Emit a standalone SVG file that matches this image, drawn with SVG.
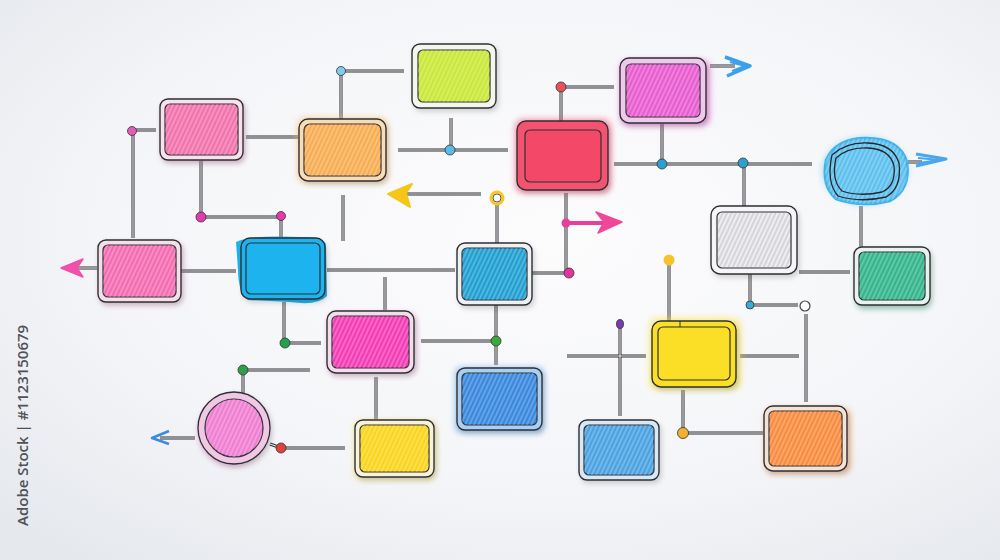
<svg xmlns="http://www.w3.org/2000/svg" width="1000" height="560" viewBox="0 0 1000 560">
<defs>
  <radialGradient id="bg" cx="0.55" cy="0.42" r="0.75">
    <stop offset="0" stop-color="#fcfcfd"/>
    <stop offset="0.6" stop-color="#f4f5f8"/>
    <stop offset="1" stop-color="#e5e8ed"/>
  </radialGradient>
  <pattern id="hatch" width="4" height="12" patternUnits="userSpaceOnUse" patternTransform="rotate(25)">
    <line x1="1" y1="0" x2="1" y2="12" stroke="#ffffff" stroke-opacity="0.5" stroke-width="0.9"/>
  </pattern>
  <pattern id="hatchG" width="4" height="12" patternUnits="userSpaceOnUse" patternTransform="rotate(25)">
    <line x1="1" y1="0" x2="1" y2="12" stroke="#8d8d94" stroke-opacity="0.65" stroke-width="0.8"/>
  </pattern>
  <filter id="sh" x="-20%" y="-20%" width="140%" height="150%">
    <feDropShadow dx="2" dy="3" stdDeviation="2.5" flood-color="#000" flood-opacity="0.16"/>
  </filter>
  <filter id="blur" x="-30%" y="-30%" width="160%" height="160%">
    <feGaussianBlur stdDeviation="3"/>
  </filter>
  <g id="lines">
    <path d="M341 71 H404 M341 71 V119"/>
    <path d="M132 130 H156 M133 131 V238"/>
    <path d="M246 137 H298"/>
    <path d="M201 161 V217 H281 V238"/>
    <path d="M343 195 V241"/>
    <path d="M181 271 H236"/>
    <path d="M97 268 H74"/>
    <path d="M327 270 H455"/>
    <path d="M385 277 V310"/>
    <path d="M398 150 H508 M451 118 V150"/>
    <path d="M400 194 H481"/>
    <path d="M497 204 V243"/>
    <path d="M561 87 H614 M561 87 V121"/>
    <path d="M710 66 H735"/>
    <path d="M614 164 H812 M662 124 V164 M744 164 V206"/>
    <path d="M908 162 H922"/>
    <path d="M861 206 V247"/>
    <path d="M566 193 V273 M532 273 H570"/>
    <path d="M799 272 H850"/>
    <path d="M750 274 V305 H798"/>
    <path d="M806 314 V402"/>
    <path d="M669 264 V321"/>
    <path d="M620 328 V416 M567 356 H646"/>
    <path d="M740 356 H799"/>
    <path d="M683 390 V433 H763"/>
    <path d="M284 302 V343 H321"/>
    <path d="M496 305 V365 M421 341 H496"/>
    <path d="M376 377 V419"/>
    <path d="M243 370 H310 M243 370 V395"/>
    <path d="M195 438 H160"/>
    <path d="M270 444 L281 448 H345"/>
  </g>
</defs>
<style>
  .lo{fill:none;stroke:#2e2e33;stroke-width:3;stroke-linecap:butt}
  .li{fill:none;stroke:#f0f1f4;stroke-width:1.1}
  .out{stroke:#2f2f34;stroke-width:1.4;filter:url(#sh)}
  .in{stroke:#2f2f34;stroke-width:1.2}
  .hz{fill:url(#hatch);stroke:none}
  .hg{fill:url(#hatchG);stroke:none}
  .glow{filter:url(#blur);opacity:0.55}
  .dot{stroke:#333;stroke-width:0.8}
  .loop{fill:none;stroke:#26262b;stroke-width:1.3}
  .wm{font-family:"Open Sans","DejaVu Sans",sans-serif;font-size:15px;font-weight:600;fill:#505259}
</style>
<rect width="1000" height="560" fill="url(#bg)"/>

<g id="connectors">
  <use href="#lines" class="lo"/>
  <use href="#lines" class="li"/>
  <path d="M566 223 H610" stroke="#e8409a" stroke-width="4" fill="none"/>
  <g id="dots">
    <circle class="dot" cx="341" cy="71" r="4.5" fill="#82cbee"/>
    <circle class="dot" cx="132" cy="131" r="4.5" fill="#e45cb8"/>
    <circle class="dot" cx="201" cy="217" r="5" fill="#e83ab0"/>
    <circle class="dot" cx="281" cy="216" r="4.5" fill="#e83ab0"/>
    <circle class="dot" cx="450" cy="150" r="5" fill="#5abbe9"/>
    <circle cx="497" cy="198" r="6" fill="#fff" stroke="#f4c81e" stroke-width="3"/>
    <circle cx="497" cy="198" r="4" fill="none" stroke="#333" stroke-width="0.8"/>
    <circle class="dot" cx="561" cy="87" r="5" fill="#e8505e"/>
    <circle class="dot" cx="662" cy="164" r="5" fill="#2aa0d0"/>
    <circle class="dot" cx="743" cy="163" r="5" fill="#2aa0d0"/>
    <circle class="dot" cx="569" cy="273" r="5" fill="#e8309e"/>
    <circle cx="566" cy="223" r="4.5" fill="#e8409a"/>
    <circle cx="669" cy="260" r="5.5" fill="#f6c428"/>
    <ellipse class="dot" cx="620" cy="324" rx="3.5" ry="4.5" fill="#7a3ab8"/>
    <circle cx="805" cy="306" r="5" fill="#fff" stroke="#444" stroke-width="1.2"/>
    <circle class="dot" cx="750" cy="305" r="4" fill="#3aaad8"/>
    <circle class="dot" cx="683" cy="433" r="5.5" fill="#f5b030"/>
    <circle class="dot" cx="285" cy="343" r="5" fill="#22a04a"/>
    <circle class="dot" cx="496" cy="341" r="5" fill="#3aaa40"/>
    <circle class="dot" cx="243" cy="370" r="5" fill="#30a048"/>
    <circle class="dot" cx="281" cy="448" r="5" fill="#e04040"/>
  </g>
  <g id="arrowheads" stroke-linejoin="round">
    <path d="M61 268 L83 259 L77 268 L83 277 Z" fill="#f050a8" stroke="#f050a8" stroke-width="1.5"/>
    <path d="M388 194 L412 184 L406 193 L410 207 Z" fill="#f5c518" stroke="#f5c518" stroke-width="2"/>
    <path d="M622 222 L596 212 L604 222 L598 233 Z" fill="#f04898" stroke="#f04898" stroke-width="1.5"/>
    <path d="M725 57 L750 66 L727 76" fill="none" stroke="#3aa0ee" stroke-width="3.5"/>
    <path d="M730 62 L745 66 L732 71" fill="none" stroke="#3aa0ee" stroke-width="2"/>
    <path d="M916 154 L946 159 L916 166" fill="none" stroke="#4aa6ee" stroke-width="3"/>
    <path d="M918 158 L940 160 L918 163" fill="none" stroke="#4aa6ee" stroke-width="2"/>
    <path d="M169 431 L152 438 L169 444" fill="none" stroke="#3a8ce0" stroke-width="2.5"/>
  </g>
</g>

<g id="n-pink-top">
  <rect class="glow" x="162" y="102" width="82" height="60" rx="8" fill="#f2a0c8"/>
  <rect class="out" x="160" y="99" width="83" height="61" rx="8" fill="#f6e1ec"/>
  <rect class="in" x="165" y="104" width="73" height="51" rx="5" fill="#f272ac"/>
  <rect class="hz" x="165" y="104" width="73" height="51" rx="5"/>
</g>
<g id="n-lime">
  <rect class="out" x="412" y="44" width="84" height="64" rx="8" fill="#f4f6ee"/>
  <rect class="in" x="418" y="50" width="72" height="52" rx="5" fill="#c8e835"/>
  <rect class="hz" x="418" y="50" width="72" height="52" rx="5"/>
</g>
<g id="n-orange-top">
  <rect class="glow" x="297" y="117" width="91" height="66" rx="8" fill="#f9c070"/>
  <rect class="out" x="299" y="119" width="87" height="62" rx="9" fill="#f8dcb6"/>
  <rect class="in" x="304" y="124" width="77" height="52" rx="6" fill="#f8ad52"/>
  <rect class="hz" x="304" y="124" width="77" height="52" rx="6"/>
</g>
<g id="n-red">
  <rect class="glow" x="515" y="119" width="96" height="74" rx="8" fill="#f4496a"/>
  <rect class="out" x="517" y="121" width="91" height="69" rx="9" fill="#f4536f"/>
  <rect class="in" x="525" y="130" width="76" height="52" rx="5" fill="#f44868"/>
</g>
<g id="n-magenta-top">
  <rect class="glow" x="620" y="60" width="90" height="66" rx="8" fill="#e860d0"/>
  <rect class="out" x="620" y="58" width="86" height="65" rx="9" fill="#f0c8ec"/>
  <rect class="in" x="626" y="64" width="74" height="53" rx="5" fill="#e85cd0"/>
  <rect class="hz" x="626" y="64" width="74" height="53" rx="5"/>
</g>
<g id="n-circle-blue">
  <ellipse class="glow" cx="865" cy="171" rx="43" ry="34" fill="#6cc6f0"/>
  <path d="M826 160 Q836 138 866 138 Q900 138 907 162 Q911 190 890 201 Q862 208 836 199 Q821 186 826 160 Z" fill="#5cc0ee" stroke="#3fb0e8" stroke-width="2.5"/>
  <path d="M826 160 Q836 138 866 138 Q900 138 907 162 Q911 190 890 201 Q862 208 836 199 Q821 186 826 160 Z" class="hz"/>
  <path class="loop" d="M832 155 Q846 142 868 143 Q893 144 899 163 Q902 188 886 197 Q860 203 838 196 Q826 182 832 155"/>
  <path class="loop" d="M836 158 Q848 147 868 148 Q890 149 894 166 Q896 186 882 192 Q860 197 842 191 Q831 180 836 158"/>
</g>
<g id="n-grey">
  <rect class="out" x="711" y="206" width="86" height="68" rx="9" fill="#f6f6f8"/>
  <rect class="in" x="717" y="212" width="74" height="56" rx="5" fill="#eeeef1"/>
  <rect class="hg" x="717" y="212" width="74" height="56" rx="5"/>
</g>
<g id="n-green">
  <rect class="glow" x="856" y="251" width="74" height="58" rx="8" fill="#7ad0a8"/>
  <rect class="out" x="854" y="247" width="76" height="58" rx="8" fill="#e8f3ee"/>
  <rect class="in" x="859" y="252" width="66" height="48" rx="5" fill="#33b58b"/>
  <rect class="hz" x="859" y="252" width="66" height="48" rx="5"/>
</g>
<g id="n-pink-left">
  <rect class="glow" x="100" y="243" width="82" height="61" rx="8" fill="#f4a6cc"/>
  <rect class="out" x="98" y="240" width="83" height="62" rx="8" fill="#f3e0ea"/>
  <rect class="in" x="103" y="245" width="73" height="52" rx="5" fill="#f46cb0"/>
  <rect class="hz" x="103" y="245" width="73" height="52" rx="5"/>
</g>
<g id="n-cyan">
  <path d="M236 242 Q250 235 300 237 Q322 236 326 244 L327 296 Q318 306 290 302 L248 300 Q238 292 238 270 Z" fill="#1db3ef"/>
  <rect class="out" x="241" y="238" width="84" height="61" rx="9" fill="#1fb4ef"/>
  <rect class="in" x="246" y="243" width="74" height="51" rx="5" fill="#1db3ef"/>
</g>
<g id="n-teal">
  <rect class="out" x="457" y="243" width="75" height="62" rx="8" fill="#eef1f4"/>
  <rect class="in" x="462" y="248" width="65" height="52" rx="5" fill="#1e9fd2"/>
  <rect class="hz" x="462" y="248" width="65" height="52" rx="5"/>
</g>
<g id="n-magenta-mid">
  <rect class="glow" x="328" y="313" width="88" height="62" rx="8" fill="#f2a0d6"/>
  <rect class="out" x="327" y="311" width="87" height="62" rx="9" fill="#f3dcec"/>
  <rect class="in" x="332" y="316" width="77" height="52" rx="5" fill="#f43bb5"/>
  <rect class="hz" x="332" y="316" width="77" height="52" rx="5"/>
</g>
<g id="n-yellow-mid">
  <rect class="glow" x="649" y="318" width="92" height="72" rx="8" fill="#fbe43a"/>
  <rect class="out" x="652" y="321" width="84" height="66" rx="9" fill="#fbe024"/>
  <rect class="in" x="658" y="327" width="72" height="53" rx="5" fill="#fbdf26"/>
  <path d="M680 321 V327" stroke="#2f2f34" stroke-width="1"/>
</g>
<g id="n-orange-bottom">
  <rect class="glow" x="765" y="408" width="86" height="66" rx="8" fill="#f9a868"/>
  <rect class="out" x="764" y="406" width="83" height="65" rx="9" fill="#f6e2d2"/>
  <rect class="in" x="769" y="411" width="73" height="55" rx="5" fill="#f98b3e"/>
  <rect class="hz" x="769" y="411" width="73" height="55" rx="5"/>
</g>
<g id="n-blue-center">
  <rect class="glow" x="455" y="367" width="89" height="66" rx="6" fill="#5aa0e6"/>
  <rect class="out" x="457" y="368" width="85" height="62" rx="8" fill="#a8d0f2"/>
  <rect class="in" x="462" y="373" width="75" height="52" rx="5" fill="#3888de"/>
  <rect class="hz" x="462" y="373" width="75" height="52" rx="5"/>
</g>
<g id="n-blue-bottom">
  <rect class="out" x="579" y="420" width="80" height="60" rx="8" fill="#d8e8f5"/>
  <rect class="in" x="584" y="425" width="70" height="50" rx="5" fill="#4aa2e2"/>
  <rect class="hz" x="584" y="425" width="70" height="50" rx="5"/>
</g>
<g id="n-yellow-bottom">
  <rect class="glow" x="354" y="420" width="82" height="60" rx="8" fill="#f8e060"/>
  <rect class="out" x="355" y="420" width="79" height="57" rx="8" fill="#f8f3d4"/>
  <rect class="in" x="360" y="425" width="69" height="47" rx="5" fill="#fad51c"/>
  <rect class="hz" x="360" y="425" width="69" height="47" rx="5"/>
</g>
<g id="n-pink-circle">
  <circle class="glow" cx="233" cy="431" r="35" fill="#ec90d8"/>
  <circle cx="234" cy="428" r="36" fill="#f0c8e4" stroke="#2f2f34" stroke-width="1.3" filter="url(#sh)"/>
  <circle cx="234" cy="428" r="29" fill="#f07ed2" stroke="#2f2f34" stroke-width="1.2"/>
  <circle cx="234" cy="428" r="29" class="hz"/>
</g>

<text class="wm" transform="translate(28,526) rotate(-90)">Adobe Stock | #1123150679</text>
</svg>
